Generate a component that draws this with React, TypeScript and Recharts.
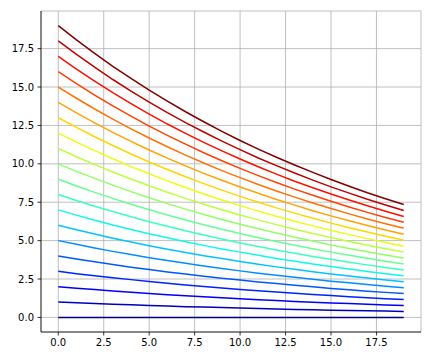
import { LineChart, Line, XAxis, YAxis, CartesianGrid } from "recharts";

// x positions of the samples
const xs = [0, 1, 2, 3, 4, 5, 6, 7, 8, 9, 10, 11, 12, 13, 14, 15, 16, 17, 18, 19];

// one row per curve, bottom (0) to top (19)
const curves: number[][] = [
  [0, 0, 0, 0, 0, 0, 0, 0, 0, 0, 0, 0, 0, 0, 0, 0, 0, 0, 0, 0],
  [1, 0.95, 0.9, 0.86, 0.82, 0.78, 0.74, 0.7, 0.67, 0.64, 0.61, 0.58, 0.55, 0.52, 0.5, 0.47, 0.45, 0.43, 0.41, 0.39],
  [2, 1.9, 1.81, 1.72, 1.64, 1.56, 1.48, 1.41, 1.34, 1.28, 1.21, 1.15, 1.1, 1.04, 0.99, 0.94, 0.9, 0.85, 0.81, 0.77],
  [3, 2.85, 2.71, 2.58, 2.46, 2.34, 2.22, 2.11, 2.01, 1.91, 1.82, 1.73, 1.65, 1.57, 1.49, 1.42, 1.35, 1.28, 1.22, 1.16],
  [4, 3.8, 3.62, 3.44, 3.27, 3.12, 2.96, 2.82, 2.68, 2.55, 2.43, 2.31, 2.2, 2.09, 1.99, 1.89, 1.8, 1.71, 1.63, 1.55],
  [5, 4.76, 4.52, 4.3, 4.09, 3.89, 3.7, 3.52, 3.35, 3.19, 3.03, 2.88, 2.74, 2.61, 2.48, 2.36, 2.25, 2.14, 2.03, 1.93],
  [6, 5.71, 5.43, 5.16, 4.91, 4.67, 4.44, 4.23, 4.02, 3.83, 3.64, 3.46, 3.29, 3.13, 2.98, 2.83, 2.7, 2.56, 2.44, 2.32],
  [7, 6.66, 6.33, 6.02, 5.73, 5.45, 5.19, 4.93, 4.69, 4.46, 4.25, 4.04, 3.84, 3.65, 3.48, 3.31, 3.15, 2.99, 2.85, 2.71],
  [8, 7.61, 7.24, 6.89, 6.55, 6.23, 5.93, 5.64, 5.36, 5.1, 4.85, 4.62, 4.39, 4.18, 3.97, 3.78, 3.59, 3.42, 3.25, 3.09],
  [9, 8.56, 8.14, 7.75, 7.37, 7.01, 6.67, 6.34, 6.03, 5.74, 5.46, 5.19, 4.94, 4.7, 4.47, 4.25, 4.04, 3.85, 3.66, 3.48],
  [10, 9.51, 9.05, 8.61, 8.19, 7.79, 7.41, 7.05, 6.7, 6.38, 6.07, 5.77, 5.49, 5.22, 4.97, 4.72, 4.49, 4.27, 4.07, 3.87],
  [11, 10.46, 9.95, 9.47, 9.01, 8.57, 8.15, 7.75, 7.37, 7.01, 6.67, 6.35, 6.04, 5.74, 5.46, 5.2, 4.94, 4.7, 4.47, 4.25],
  [12, 11.41, 10.86, 10.33, 9.82, 9.35, 8.89, 8.46, 8.04, 7.65, 7.28, 6.92, 6.59, 6.26, 5.96, 5.67, 5.39, 5.13, 4.88, 4.64],
  [13, 12.37, 11.76, 11.19, 10.64, 10.12, 9.63, 9.16, 8.71, 8.29, 7.88, 7.5, 7.13, 6.79, 6.46, 6.14, 5.84, 5.56, 5.29, 5.03],
  [14, 13.32, 12.67, 12.05, 11.46, 10.9, 10.37, 9.87, 9.38, 8.93, 8.49, 8.08, 7.68, 7.31, 6.95, 6.61, 6.29, 5.98, 5.69, 5.41],
  [15, 14.27, 13.57, 12.91, 12.28, 11.68, 11.11, 10.57, 10.05, 9.56, 9.1, 8.65, 8.23, 7.83, 7.45, 7.09, 6.74, 6.41, 6.1, 5.8],
  [16, 15.22, 14.48, 13.77, 13.1, 12.46, 11.85, 11.28, 10.72, 10.2, 9.7, 9.23, 8.78, 8.35, 7.95, 7.56, 7.19, 6.84, 6.51, 6.19],
  [17, 16.17, 15.38, 14.63, 13.92, 13.24, 12.59, 11.98, 11.4, 10.84, 10.31, 9.81, 9.33, 8.87, 8.44, 8.03, 7.64, 7.27, 6.91, 6.57],
  [18, 17.12, 16.29, 15.49, 14.74, 14.02, 13.33, 12.68, 12.07, 11.48, 10.92, 10.38, 9.88, 9.4, 8.94, 8.5, 8.09, 7.69, 7.32, 6.96],
  [19, 18.07, 17.19, 16.35, 15.56, 14.8, 14.08, 13.39, 12.74, 12.11, 11.52, 10.96, 10.43, 9.92, 9.44, 8.98, 8.54, 8.12, 7.73, 7.35],
];

// jet colormap, sampled at 20 steps
const colors = [
  "#000080", "#0000bc", "#0000fa", "#0022ff", "#0057ff",
  "#008dff", "#00c3ff", "#0ff8e8", "#3bffbc", "#66ff91",
  "#91ff66", "#bcff3b", "#e8ff0f", "#ffd500", "#ffa300",
  "#ff7200", "#ff4000", "#fa0f00", "#bc0000", "#800000",
];

const ticks = [0, 2.5, 5, 7.5, 10, 12.5, 15, 17.5];

const data = xs.map((x, j) => {
  const row: Record<string, number> = { x };
  curves.forEach((c, i) => {
    row[`s${i}`] = c[j];
  });
  return row;
});

const tickStyle = { fontSize: 10, fill: "#000", fontFamily: "DejaVu Sans" };
const domain: [number, number] = [-0.95, 19.95];

export default function App() {
  return (
    <div style={{ position: "absolute", left: 0, top: 0, background: "#fff" }}>
      <LineChart
        width={432}
        height={360}
        data={data}
        margin={{ top: 11, right: 11, left: 0, bottom: 0 }}
      >
        <CartesianGrid stroke="#b0b0b0" strokeWidth={0.8} />
        <XAxis
          dataKey="x"
          type="number"
          domain={domain}
          ticks={ticks}
          allowDataOverflow
          height={28}
          tick={tickStyle}
          tickFormatter={(v: number) => v.toFixed(1)}
          tickSize={3.5}
          tickMargin={3.5}
          axisLine={{ stroke: "#000", strokeWidth: 0.8 }}
          tickLine={{ stroke: "#000", strokeWidth: 0.8 }}
        />
        <XAxis
          xAxisId="top"
          orientation="top"
          type="number"
          domain={domain}
          height={0}
          tick={false}
          tickLine={false}
          axisLine={{ stroke: "#000", strokeWidth: 0.8 }}
        />
        <YAxis
          type="number"
          domain={domain}
          ticks={ticks}
          allowDataOverflow
          width={41}
          tick={tickStyle}
          tickFormatter={(v: number) => v.toFixed(1)}
          tickSize={3.5}
          tickMargin={3.5}
          axisLine={{ stroke: "#000", strokeWidth: 0.8 }}
          tickLine={{ stroke: "#000", strokeWidth: 0.8 }}
        />
        <YAxis
          yAxisId="right"
          orientation="right"
          type="number"
          domain={domain}
          width={0}
          tick={false}
          tickLine={false}
          axisLine={{ stroke: "#000", strokeWidth: 0.8 }}
        />
        {curves.map((_, i) => (
          <Line
            key={i}
            dataKey={`s${i}`}
            stroke={colors[i]}
            strokeWidth={1.5}
            dot={false}
            type="linear"
            isAnimationActive={false}
          />
        ))}
      </LineChart>
    </div>
  );
}
